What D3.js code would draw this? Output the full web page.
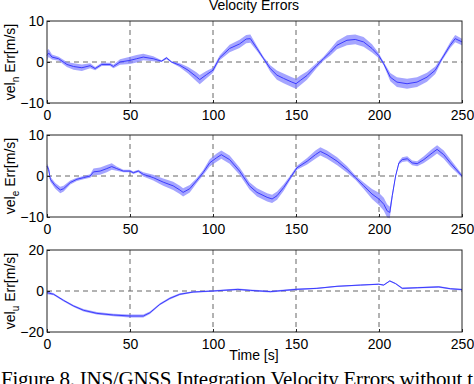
<!DOCTYPE html>
<html>
<head>
<meta charset="utf-8">
<script src="https://cdn.jsdelivr.net/npm/d3@7"></script>
<style>
  body { margin: 0; background: #fff; }
  svg { display: block; }
  text { font-family: "Liberation Sans", Arial, sans-serif; }
</style>
</head>
<body>
<div id="chart"></div>
<script>
const W = 474, H = 384;

// values: time [s], mean error, half-width of the noise band
const timeN = [0, 1, 3, 7, 12, 16, 21, 26, 29, 33, 38, 40, 44, 50, 54, 58, 64, 69, 72, 75, 80, 85, 90, 92, 96, 100, 104, 110, 116, 120, 122.5, 126.5, 130.5, 134.5, 138.5, 142.5, 147.5, 150, 152.6, 156.6, 162.6, 166.6, 170.7, 174.7, 180.7, 185.7, 190.7, 195.8, 199.8, 202.8, 206.8, 210.8, 216.9, 222.9, 228.9, 233.9, 237.9, 242.9, 245.9, 250];
const velN  = [1.6, 2.2, 1.2, 0.8, -0.6, -1.1, -1.4, -0.9, -1.6, -0.6, -0.6, -1.1, 0, 0.4, 0.8, 1.2, 0.8, 0.2, 1.0, 0, -0.8, -2.0, -3.6, -4.3, -3.1, -2.0, 1.0, 3.3, 4.4, 5.6, 5.7, 3.3, 0.8, -1.6, -3.2, -4.0, -4.9, -5.3, -4.5, -3.3, -0.8, 0.8, 2.4, 4.1, 5.3, 5.5, 4.9, 3.3, 1.6, -0.4, -3.7, -4.9, -5.3, -4.9, -3.7, -2.0, 0.8, 4.1, 5.7, 4.9];
const bandN = [1.2, 1.0, 0.6, 0.5, 0.6, 0.8, 0.8, 0.6, 0.4, 0.4, 0.4, 0.4, 0.7, 0.9, 0.9, 0.8, 0.6, 0.2, 0.3, 0.2, 0.5, 0.8, 1.1, 1.1, 0.9, 0.6, 0.6, 0.9, 1.0, 1.0, 1.0, 0.6, 0.4, 0.8, 1.1, 1.2, 1.2, 1.2, 1.2, 1.0, 0.6, 0.5, 0.8, 1.0, 1.2, 1.2, 1.2, 1.0, 0.6, 0.4, 1.0, 1.2, 1.2, 1.2, 1.1, 0.9, 0.5, 0.7, 0.9, 0.8];

const timeE = [0, 1, 2, 5, 8, 10, 14, 18, 22, 26, 28, 32, 36, 39, 42, 46, 50, 52, 55, 58, 64, 70, 76, 80, 82, 86, 90, 94, 98, 102, 105, 110, 116, 122, 126.5, 132.6, 135.6, 138.6, 142.6, 146.6, 150.6, 156.7, 161.7, 164.7, 168.7, 174.8, 180.8, 185.8, 190.8, 195.8, 199.9, 202.9, 204.9, 206.5, 208, 210, 212, 214, 217, 220, 223, 227, 232, 235, 239, 243, 250];
const velE  = [2.4, 1.6, -0.8, -2.4, -3.4, -3.1, -1.6, -0.8, -0.4, 0, 1.0, 1.2, 1.8, 2.3, 1.8, 1.2, 1.2, 0.8, 1.2, 0.4, -0.4, -1.5, -2.4, -3.4, -4.0, -3.1, -1.2, 0.8, 3.2, 4.4, 5.2, 4.0, 1.2, -2.4, -4.0, -5.2, -5.6, -4.8, -2.8, -0.4, 2.0, 3.6, 5.2, 6.0, 5.2, 3.6, 1.6, -0.4, -2.4, -4.4, -5.6, -6.9, -8.5, -8.9, -4.8, 0, 3.2, 4.0, 4.2, 3.2, 3.0, 4.0, 5.6, 6.5, 5.2, 3.2, 0];
const bandE = [0.6, 0.6, 0.6, 0.7, 0.8, 0.7, 0.5, 0.4, 0.4, 0.4, 0.8, 0.9, 0.9, 0.8, 0.5, 0.3, 0.3, 0.3, 0.3, 0.5, 0.7, 0.9, 1.0, 1.0, 1.0, 0.9, 0.6, 0.6, 0.9, 1.0, 1.0, 1.0, 0.9, 0.9, 1.0, 1.0, 1.0, 1.0, 0.8, 0.5, 0.5, 0.8, 1.0, 1.0, 1.0, 1.0, 0.8, 0.5, 0.8, 1.2, 1.5, 1.6, 1.6, 1.4, 0.8, 0.3, 0.4, 0.6, 0.6, 0.6, 0.6, 0.8, 1.0, 1.0, 1.0, 0.9, 0.4];

const timeU = [0, 4, 10, 16, 22, 30, 40, 50, 58, 62, 68, 74, 80, 88, 100, 115, 122.5, 134.6, 150, 162.6, 174.7, 188.8, 199.8, 202.8, 206.5, 210, 214, 223, 236, 243, 250];
const velU  = [-0.8, -1.6, -4.6, -7.3, -9.4, -10.9, -11.7, -12.2, -12.2, -10.6, -6.5, -3.6, -1.6, -0.5, 0, 0.8, 0.3, -0.3, 0.8, 1.3, 2.3, 2.9, 3.3, 2.9, 4.9, 3.6, 1.3, 1.6, 2.0, 1.1, 0.7];
const bandU = [0.8, 0.5, 0.5, 0.5, 0.6, 0.6, 0.6, 0.7, 0.7, 0.6, 0.5, 0.5, 0.5, 0.4, 0.4, 0.4, 0.4, 0.4, 0.4, 0.3, 0.3, 0.3, 0.3, 0.3, 0.3, 0.3, 0.4, 0.4, 0.4, 0.4, 0.4];

const xTicks = [0, 50, 100, 150, 200, 250];
const yTicksNE = [-10, 0, 10];
const yTicksU = [-20, 0, 20];

const panels = [
  { t: timeN, v: velN, b: bandN, ticks: yTicksNE, sub: "n", top: 21 },
  { t: timeE, v: velE, b: bandE, ticks: yTicksNE, sub: "e", top: 135 },
  { t: timeU, v: velU, b: bandU, ticks: yTicksU, sub: "u", top: 250 }
];

const left = 47, right = 462, ph = 82;

const svg = d3.select("#chart").append("svg")
  .attr("width", W)
  .attr("height", H);

const x = d3.scaleLinear().domain([0, 250]).range([left, right]);

// title
svg.append("text")
  .attr("x", 254)
  .attr("y", 10)
  .attr("text-anchor", "middle")
  .style("font-size", "14px")
  .text("Velocity Errors");

panels.forEach(p => {
  const y = d3.scaleLinear()
    .domain([p.ticks[0], p.ticks[2]])
    .range([p.top + ph, p.top]);
  const g = svg.append("g");
  const pts = p.t.map((t, i) => ({ t: t, v: p.v[i], b: p.b[i] }));

  // dashed grid
  g.selectAll(".gx").data(xTicks.slice(1, -1)).enter()
    .append("line")
    .attr("x1", d => x(d)).attr("x2", d => x(d))
    .attr("y1", p.top).attr("y2", p.top + ph)
    .attr("stroke", "#666")
    .attr("stroke-dasharray", "5,4");
  g.append("line")
    .attr("x1", left).attr("x2", right)
    .attr("y1", y(0)).attr("y2", y(0))
    .attr("stroke", "#666")
    .attr("stroke-dasharray", "5,4");

  // noise band and mean line
  g.append("path")
    .datum(pts)
    .attr("d", d3.area().x(d => x(d.t)).y0(d => y(d.v - d.b)).y1(d => y(d.v + d.b)))
    .attr("fill", "#7f7fff")
    .attr("opacity", 0.7);
  g.append("path")
    .datum(pts)
    .attr("d", d3.line().x(d => x(d.t)).y(d => y(d.v)))
    .attr("fill", "none")
    .attr("stroke", "#3c3cff")
    .attr("stroke-width", 1);

  // frame
  g.append("rect")
    .attr("x", left).attr("y", p.top)
    .attr("width", right - left).attr("height", ph)
    .attr("fill", "none")
    .attr("stroke", "#222");

  // axes with inward ticks
  const xa = g.append("g")
    .attr("transform", `translate(0,${p.top + ph})`)
    .call(d3.axisBottom(x).tickValues(xTicks).tickSize(-3).tickPadding(7));
  const ya = g.append("g")
    .attr("transform", `translate(${left},0)`)
    .call(d3.axisLeft(y).tickValues(p.ticks).tickSize(-3).tickPadding(3));
  [xa, ya].forEach(a => {
    a.select(".domain").remove();
    a.selectAll("line").attr("stroke", "#222");
    a.selectAll("text").style("font-size", "14px").attr("fill", "#000")
      .style("font-family", "'Liberation Sans', Arial, sans-serif");
  });

  // y label with subscript
  const lab = g.append("text")
    .attr("transform", `translate(15,${p.top + ph / 2}) rotate(-90)`)
    .attr("text-anchor", "middle")
    .style("font-size", "14px");
  lab.append("tspan").text("vel");
  lab.append("tspan").attr("dy", 4).style("font-size", "10px").text(p.sub);
  lab.append("tspan").attr("dy", -4).text(" Err[m/s]");
});

svg.append("text")
  .attr("x", 254)
  .attr("y", 360)
  .attr("text-anchor", "middle")
  .style("font-size", "14px")
  .text("Time [s]");

// figure caption, cut by the bottom edge as in the scan
svg.append("text")
  .attr("x", 1)
  .attr("y", 386)
  .attr("textLength", 472)
  .attr("lengthAdjust", "spacing")
  .style("font-family", "'Liberation Serif', 'Times New Roman', serif")
  .style("font-size", "21px")
  .text("Figure 8. INS/GNSS Integration Velocity Errors without t");
</script>
</body>
</html>
